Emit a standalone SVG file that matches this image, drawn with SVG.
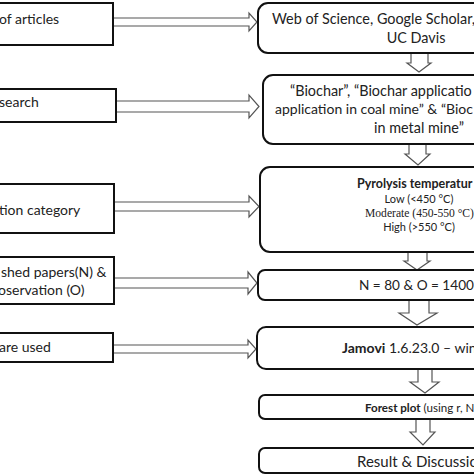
<svg xmlns="http://www.w3.org/2000/svg" width="474" height="474" viewBox="0 0 474 474">
<style>
.lb{fill:#fff;stroke:#111;stroke-width:2}
.rb{fill:#fff;stroke:#111;stroke-width:2}
.ar{fill:#fff;stroke:#555;stroke-width:1.2;stroke-linejoin:miter}
text{font-family:Lato,"Open Sans","Liberation Sans",sans-serif;fill:#222}
.t{font-size:14px}
.s{font-size:11px}
.b{font-weight:bold}
.serif{font-family:"Liberation Serif","DejaVu Serif",serif}
</style>
<rect width="474" height="474" fill="#fff"/>
<g id="connectors">
<path class="ar" d="M113,18 H249 V13 L257,22 L249,31 V26 H113 Z"/>
<path class="ar" d="M116,101 H249 V95 L259,106.5 L249,118 V112 H116 Z"/>
<path class="ar" d="M114,202 H249 V196 L259,206.5 L249,217 V211 H114 Z"/>
<path class="ar" d="M114,278 H248 V272 L257,283 L248,294 V288 H114 Z"/>
<path class="ar" d="M113,345 H248 V340 L256,349 L248,358 V353 H113 Z"/>
<path class="ar" d="M411,53 H428 V63 H431 L419,72 L407,63 H411 Z"/>
<path class="ar" d="M409,143 H426 V154 H430 L418,165 L405,154 H409 Z"/>
<path class="ar" d="M408,252 H427 V261 H430 L417,270 L404,261 H408 Z"/>
<path class="ar" d="M409,300 H429 V313 H437 L417,325 L399,313 H409 Z"/>
<path class="ar" d="M418,369 H432 V382 H439 L425,393 L410,382 H418 Z"/>
<path class="ar" d="M416,419 H430 V432 H435 L423,445 L410,432 H416 Z"/>
</g>
<g id="l1"><rect class="lb" x="-40" y="3" width="153" height="42"/><text class="t" x="-1" y="24">of articles</text></g>
<g id="l2"><rect class="lb" x="-40" y="89" width="156" height="33"/><text class="t" x="-1" y="107">search</text></g>
<g id="l3"><rect class="lb" x="-40" y="184" width="154" height="49"/><text class="t" x="-1" y="215">tion category</text></g>
<g id="l4"><rect class="lb" x="-40" y="257" width="154" height="47"/><text class="t" x="1" y="277">shed papers(N) &amp;</text><text class="t" x="-2" y="295">oservation (O)</text></g>
<g id="l5"><rect class="lb" x="-40" y="333" width="153" height="29"/><text class="t" x="-1" y="352">are used</text></g>
<g id="r1"><rect class="rb" x="258" y="3" width="322" height="50" rx="10"/><text class="t" x="272" y="24" style="font-size:14.4px">Web of Science, Google Scholar, S</text><text class="t" x="416" y="43" text-anchor="middle" style="font-size:14.4px">UC Davis</text></g>
<g id="r2"><rect class="rb" x="263" y="75" width="322" height="69" rx="10"/><text class="t" x="290" y="96" style="font-size:14.4px">“Biochar”, “Biochar applicatio</text><text class="t" x="275" y="114">application in coal mine” &amp; “Bioc</text><text class="t" x="419" y="133" text-anchor="middle" style="font-size:14.4px">in metal mine”</text></g>
<g id="r3"><rect class="rb" x="260" y="167" width="322" height="85" rx="10"/><text class="s b" x="357" y="188" style="font-size:12.5px">Pyrolysis temperatur</text><text class="s" x="419" y="203" text-anchor="middle">Low (&lt;450 °C)</text><text class="s serif" x="365" y="217" style="font-size:11.6px">Moderate (450-550 °C)</text><text class="s" x="419" y="231" text-anchor="middle">High (&gt;550 °C)</text></g>
<g id="r4"><rect class="rb" x="258" y="270" width="322" height="30" rx="7"/><text class="t" x="359" y="290" style="font-size:13.6px">N = 80 &amp; O = 1400</text></g>
<g id="r5"><rect class="rb" x="257" y="327" width="322" height="42" rx="9"/><text class="t" x="342" y="353"><tspan class="b">Jamovi</tspan> 1.6.23.0 – win</text></g>
<g id="r6"><rect class="rb" x="259" y="395" width="322" height="24" rx="6"/><text class="s" x="365" y="412" style="font-size:11.6px"><tspan class="b">Forest plot</tspan> (using r, N</text></g>
<g id="r7"><rect class="rb" x="259" y="448" width="322" height="25" rx="6"/><text class="t" x="357" y="467" style="font-size:15px">Result &amp; Discussion</text></g>
</svg>
